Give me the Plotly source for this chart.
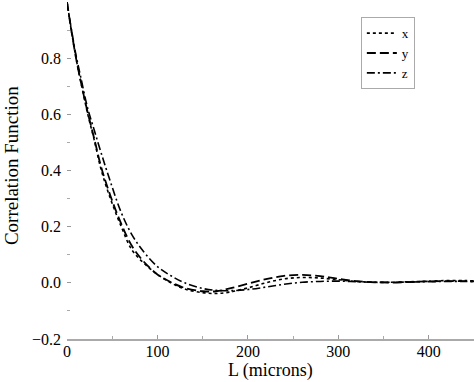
import plotly.graph_objects as go

L = [0, 5, 10, 15, 23, 30, 38, 48, 60, 72, 85, 100, 115, 130, 150, 165, 180, 200,
     220, 240, 260, 280, 300, 320, 340, 360, 380, 400, 420, 440, 450]

corr_x = [1.0, 0.895, 0.80, 0.72, 0.60, 0.51, 0.40, 0.30, 0.20, 0.116, 0.07, 0.03, 0.0,
          -0.022, -0.035, -0.038, -0.033, -0.018, 0.0, 0.014, 0.019, 0.017, 0.011, 0.005,
          0.002, 0.002, 0.004, 0.006, 0.008, 0.008, 0.007]
corr_y = [1.0, 0.895, 0.80, 0.72, 0.605, 0.515, 0.41, 0.31, 0.21, 0.13, 0.075, 0.03, 0.002,
          -0.018, -0.030, -0.030, -0.020, -0.003, 0.013, 0.025, 0.028, 0.024, 0.014, 0.006,
          0.002, 0.001, 0.003, 0.005, 0.006, 0.006, 0.005]
corr_z = [1.0, 0.90, 0.81, 0.735, 0.62, 0.545, 0.46, 0.36, 0.25, 0.17, 0.11, 0.058, 0.025,
          0.0, -0.020, -0.027, -0.028, -0.024, -0.015, -0.005, 0.002, 0.005, 0.006, 0.004,
          0.002, 0.002, 0.003, 0.004, 0.005, 0.005, 0.004]

x_ticks = [0, 100, 200, 300, 400]
y_ticks = [-0.2, 0.0, 0.2, 0.4, 0.6, 0.8]

font_fam = "Liberation Serif, Times New Roman, serif"

fig = go.Figure()
fig.add_trace(go.Scatter(x=L, y=corr_x, name="x", mode="lines", line_shape="spline",
                         line=dict(color="black", width=1.6, dash="dot")))
fig.add_trace(go.Scatter(x=L, y=corr_y, name="y", mode="lines", line_shape="spline",
                         line=dict(color="black", width=1.8, dash="9px,4px")))
fig.add_trace(go.Scatter(x=L, y=corr_z, name="z", mode="lines", line_shape="spline",
                         line=dict(color="black", width=1.6, dash="8px,3px,2px,3px")))

fig.update_layout(
    width=474, height=382,
    margin=dict(l=67, r=0, t=2, b=43, autoexpand=False),
    paper_bgcolor="white", plot_bgcolor="white",
    font=dict(family=font_fam, size=16, color="black"),
    showlegend=True,
    legend=dict(x=0.722, y=0.955, xanchor="left", yanchor="top",
                bordercolor="#aaaaaa", borderwidth=1, bgcolor="white",
                font=dict(family=font_fam, size=13), tracegroupgap=0,
                itemwidth=30),
    annotations=[
        dict(text="L (microns)", xref="paper", yref="paper", x=0.5, y=-0.092,
             xanchor="center", yanchor="middle", showarrow=False,
             font=dict(family=font_fam, size=18)),
        dict(text="Correlation Function", xref="paper", yref="paper",
             x=-0.1376, y=0.516, xanchor="center", yanchor="middle", textangle=-90,
             showarrow=False, font=dict(family=font_fam, size=19)),
    ],
)
fig.update_xaxes(
    range=[0, 450], tickvals=x_ticks, ticks="inside", ticklen=4, tickcolor="#999999",
    showline=True, linecolor="#aaaaaa", linewidth=1.5, showgrid=False, zeroline=False,
    minor=dict(dtick=50, tick0=0, ticks="inside", ticklen=3, tickcolor="#aaaaaa"),
    automargin=False, tickfont=dict(size=16), ticklabelstandoff=-3,
)
fig.update_yaxes(
    range=[-0.2, 1.0], tickvals=y_ticks, tickformat=".1f", ticks="inside", ticklen=4,
    tickcolor="#999999", showline=False, showgrid=False, zeroline=False,
    minor=dict(dtick=0.1, tick0=0, ticks="inside", ticklen=3, tickcolor="#aaaaaa"),
    automargin=False, tickfont=dict(size=16), ticklabelstandoff=5,
)

fig.write_html("out.html", config={"displayModeBar": False},
               post_script="document.body.style.margin='0';")
